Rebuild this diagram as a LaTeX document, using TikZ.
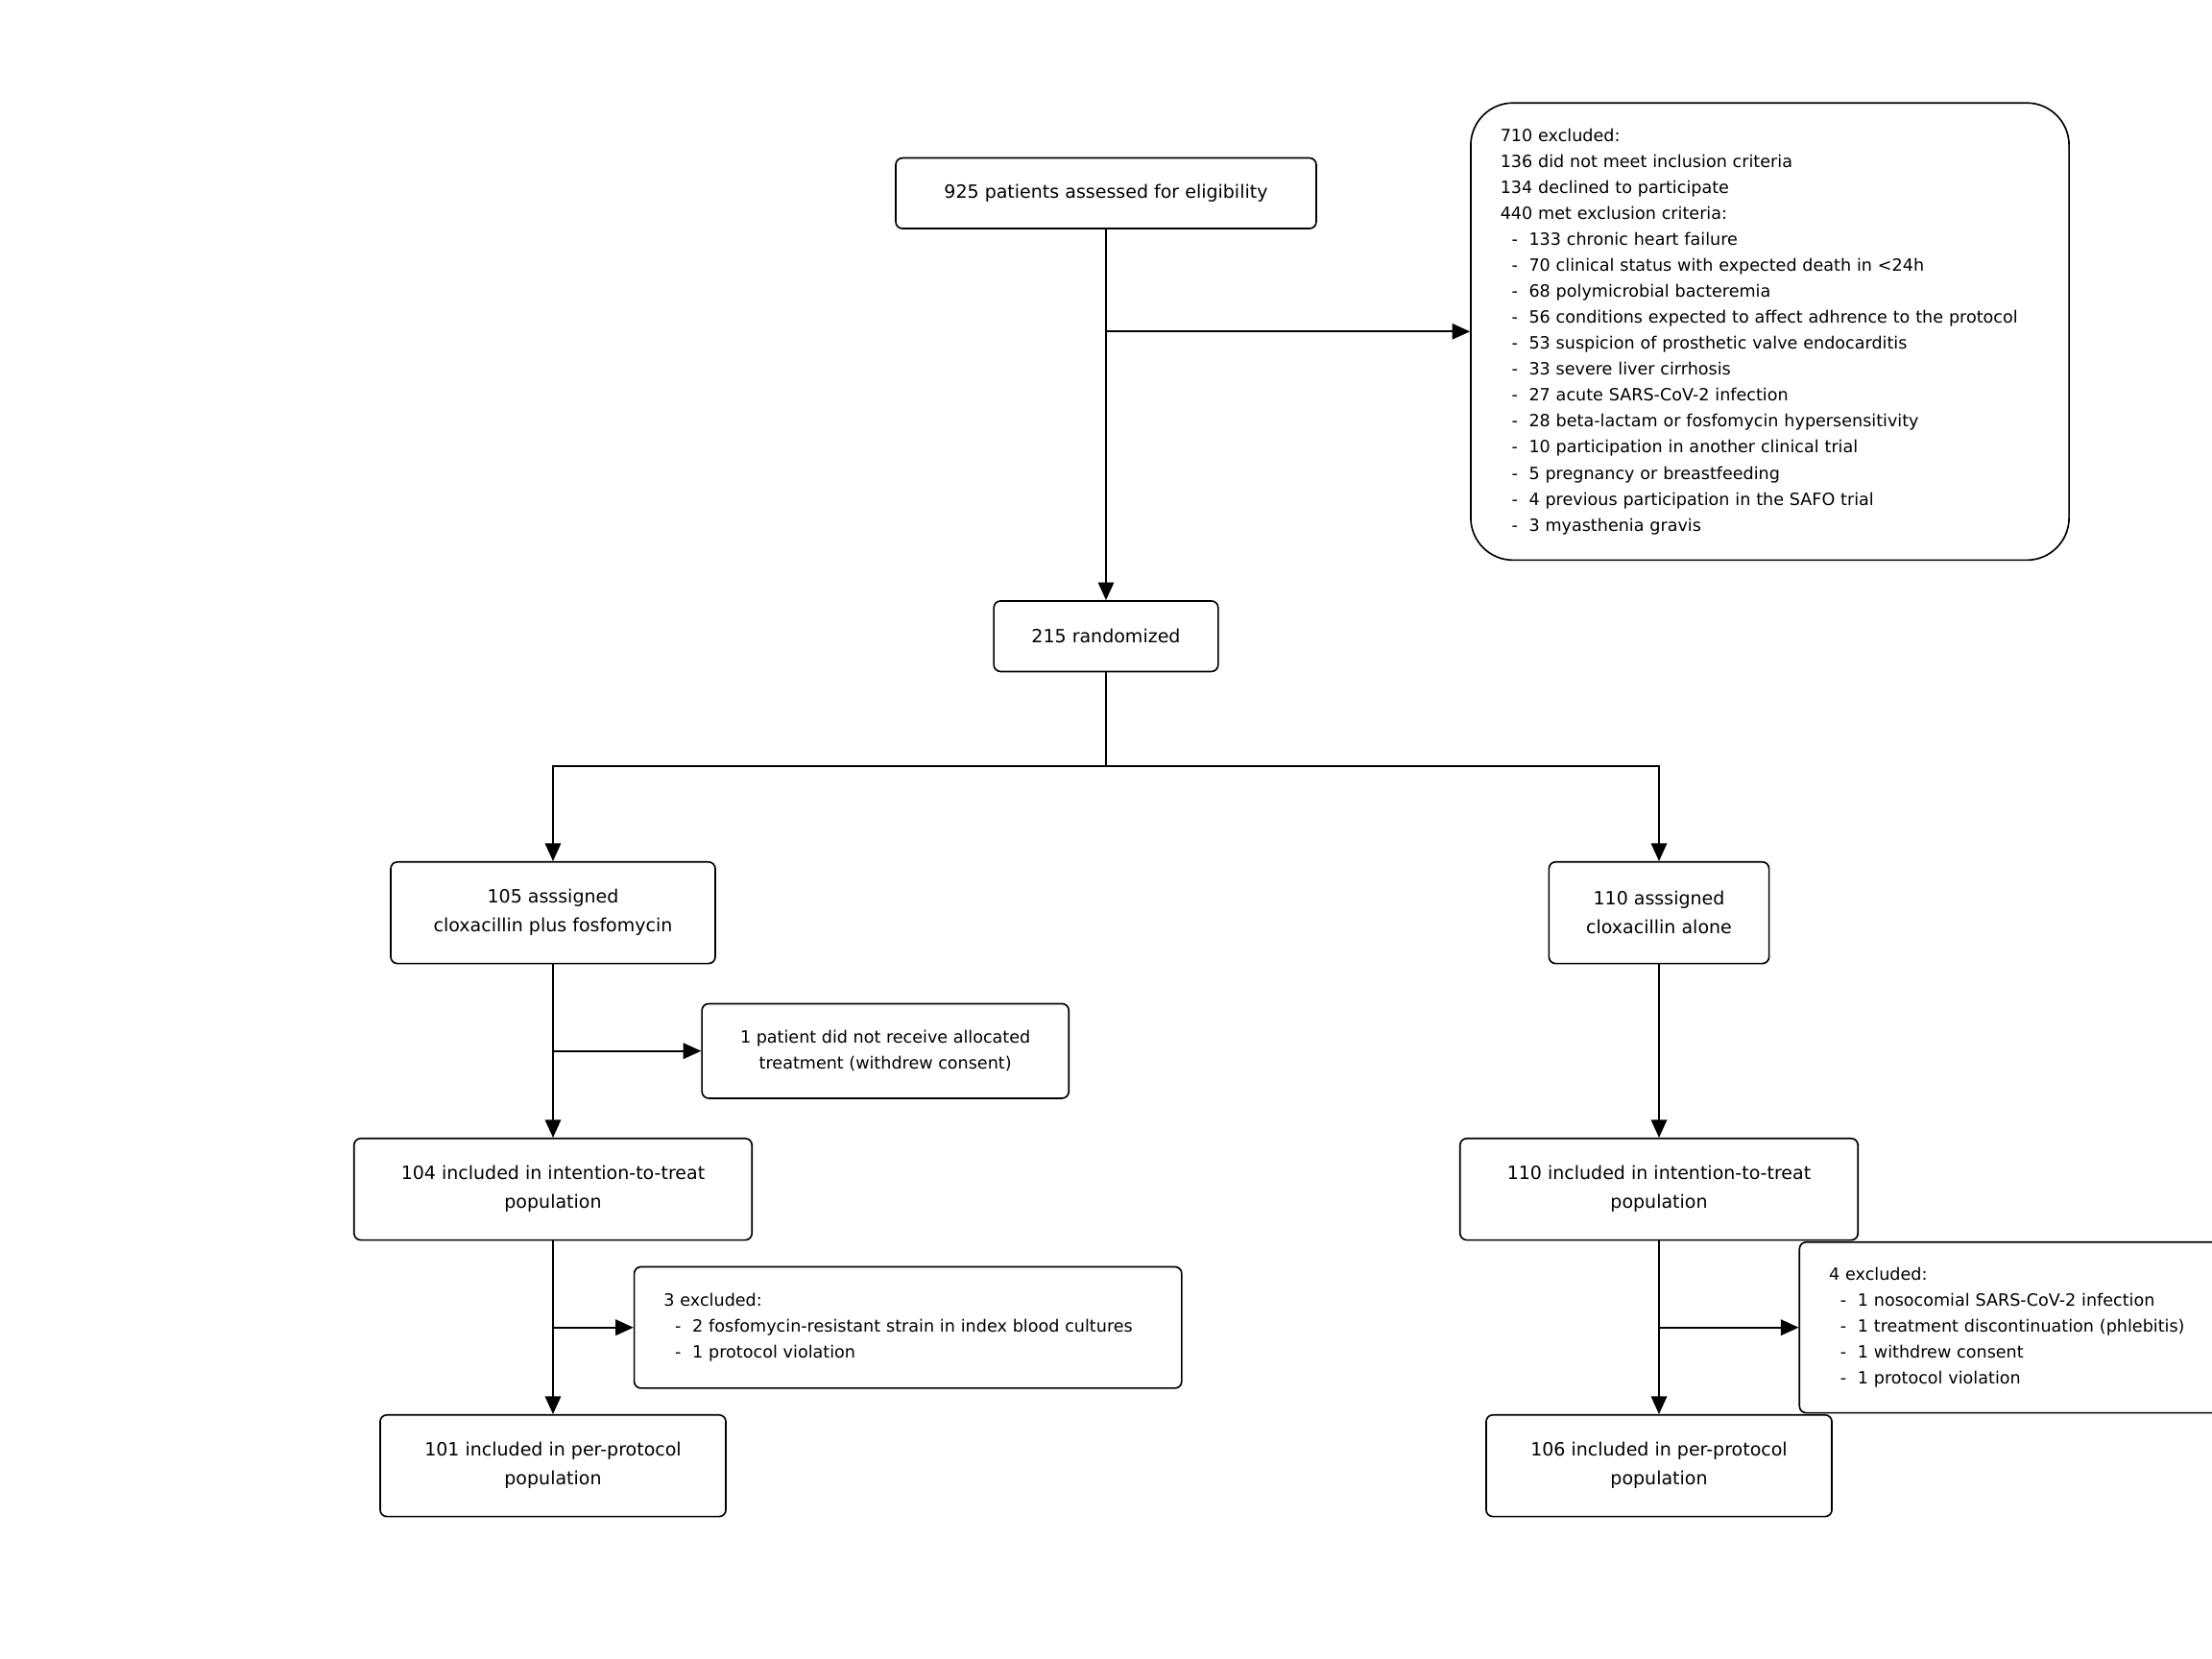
\documentclass[tikz,border=0pt]{standalone}
\usepackage{fontspec}
\setmainfont{DejaVu Sans}
\usetikzlibrary{arrows.meta}
\begin{document}
\begin{tikzpicture}[x=0.025cm,y=-0.025cm,
  box/.style={draw,line width=0.8pt,rounded corners=0.12cm,align=center,font=\fontsize{9.2}{14.5}\selectfont,inner sep=0pt},
  lbox/.style={draw,line width=0.8pt,rounded corners=0.12cm,align=left,font=\fontsize{8.5}{13.1}\selectfont,inner xsep=0.525cm,inner ysep=0pt},
  arr/.style={line width=0.8pt,-{Triangle[length=9pt,width=8pt]}},
  ln/.style={line width=0.8pt}]
\useasboundingbox (0,0) rectangle (1568,1176);
\clip (0,0) rectangle (1568,1176);
\node[box,minimum width=7.45cm,minimum height=1.25cm] (top) at (784,137) {925 patients assessed for eligibility};
\node[lbox,rounded corners=0.75cm,anchor=west,text width=9.55cm,minimum height=8.1cm] (excl) at (1042,235) {710 excluded:\\136 did not meet inclusion criteria\\134 declined to participate\\440 met exclusion criteria:\\\ \ -\ \ 133 chronic heart failure\\\ \ -\ \ 70 clinical status with expected death in <24h\\\ \ -\ \ 68 polymicrobial bacteremia\\\ \ -\ \ 56 conditions expected to affect adhrence to the protocol\\\ \ -\ \ 53 suspicion of prosthetic valve endocarditis\\\ \ -\ \ 33 severe liver cirrhosis\\\ \ -\ \ 27 acute SARS-CoV-2 infection\\\ \ -\ \ 28 beta-lactam or fosfomycin hypersensitivity\\\ \ -\ \ 10 participation in another clinical trial\\\ \ -\ \ 5 pregnancy or breastfeeding\\\ \ -\ \ 4 previous participation in the SAFO trial\\\ \ -\ \ 3 myasthenia gravis};
\node[box,minimum width=3.975cm,minimum height=1.25cm] (rand) at (784,451) {215 randomized};
\node[box,minimum width=5.75cm,minimum height=1.8cm] (la) at (392,647) {105 asssigned\\cloxacillin plus fosfomycin};
\node[box,minimum width=3.9cm,minimum height=1.8cm] (ra) at (1176,647) {110 asssigned\\cloxacillin alone};
\node[box,font=\fontsize{8.5}{13.1}\selectfont,minimum width=6.5cm,minimum height=1.675cm,anchor=west] (n1) at (497,745) {1 patient did not receive allocated\\treatment (withdrew consent)};
\node[box,minimum width=7.05cm,minimum height=1.8cm] (litt) at (392,843) {104 included in intention-to-treat\\population};
\node[box,minimum width=7.05cm,minimum height=1.8cm] (ritt) at (1176,843) {110 included in intention-to-treat\\population};
\node[lbox,anchor=west,text width=8.65cm,minimum height=2.15cm] (e3) at (449,941) {3 excluded:\\\ \ -\ \ 2 fosfomycin-resistant strain in index blood cultures\\\ \ -\ \ 1 protocol violation};
\node[lbox,anchor=west,text width=7.5cm,minimum height=3.025cm] (e4) at (1275,941) {4 excluded:\\\ \ -\ \ 1 nosocomial SARS-CoV-2 infection\\\ \ -\ \ 1 treatment discontinuation (phlebitis)\\\ \ -\ \ 1 withdrew consent\\\ \ -\ \ 1 protocol violation};
\node[box,minimum width=6.125cm,minimum height=1.8cm] (lpp) at (392,1039) {101 included in per-protocol\\population};
\node[box,minimum width=6.125cm,minimum height=1.8cm] (rpp) at (1176,1039) {106 included in per-protocol\\population};
\coordinate (c1) at (784,235);
\coordinate (c2) at (784,543);
\coordinate (c3) at (392,745);
\coordinate (c4) at (392,941);
\coordinate (c5) at (1176,941);
\draw[arr] (top.south) -- (rand.north);
\draw[arr] (c1) -- (excl.west);
\draw[ln] (rand.south) -- (c2);
\draw[arr] (c2) -| (la.north);
\draw[arr] (c2) -| (ra.north);
\draw[arr] (la.south) -- (litt.north);
\draw[arr] (c3) -- (n1.west);
\draw[arr] (ra.south) -- (ritt.north);
\draw[arr] (litt.south) -- (lpp.north);
\draw[arr] (c4) -- (e3.west);
\draw[arr] (ritt.south) -- (rpp.north);
\draw[arr] (c5) -- (e4.west);
\end{tikzpicture}
\end{document}
